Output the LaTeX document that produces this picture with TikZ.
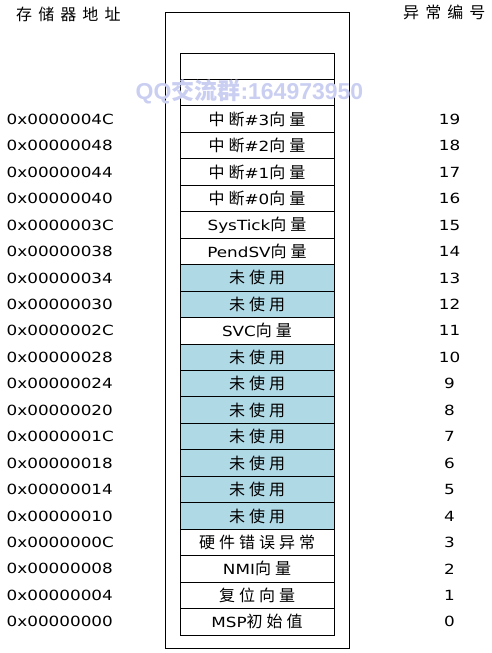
\documentclass[tikz,border=0pt]{standalone}
\usepackage{fontspec}
\setmainfont{DejaVu Sans}[FakeStretch=1.2]
\newfontfamily\zh{Noto Sans CJK SC}[LetterSpace=25]
\newfontfamily\zhhead{Noto Sans CJK SC}[LetterSpace=38]
\newfontfamily\wmlat{Liberation Sans}
\newfontfamily\wmzh{Noto Sans CJK SC}
\newcommand\zc[1]{{\zh\fontsize{16bp}{18bp}\selectfont #1}}
\definecolor{unusedblue}{RGB}{176,217,230}
\definecolor{wmblue}{RGB}{202,207,242}

\begin{document}
\begin{tikzpicture}[x=1bp,y=-1bp]
\tikzset{cell/.style={draw,line width=1bp,minimum width=154bp,minimum height=26.45bp,inner sep=0pt,font=\fontsize{14bp}{16bp}\selectfont}}
\tikzset{used/.style={cell,fill=white}}
\tikzset{unused/.style={cell,fill=unusedblue}}
\tikzset{addr/.style={anchor=west,inner sep=0pt,font=\fontsize{14bp}{16bp}\selectfont}}
\tikzset{excno/.style={inner sep=0pt,font=\fontsize{14bp}{16bp}\selectfont}}
\tikzset{head/.style={inner sep=0pt,font=\zhhead\fontsize{16bp}{18bp}\selectfont}}
\useasboundingbox (0,0) rectangle (492,653);
% outer frame
\draw[line width=1bp] (165,12.5) rectangle (349.5,648);
% column titles
\node[head,anchor=west] (addrhead) at (16,14) {存储器地址};
\node[head,anchor=west] (exchead) at (403,12) {异常编号};
% two empty slots on top
\node[used] (v21) at (257,{635-26.45*21.5}) {};
\node[used] (v20) at (257,{635-26.45*20.5}) {};
% vector table
\foreach \k/\ad/\txt/\kind in {
  19/0000004C/{\zc{中断}\#3\zc{向量}}/used,
  18/00000048/{\zc{中断}\#2\zc{向量}}/used,
  17/00000044/{\zc{中断}\#1\zc{向量}}/used,
  16/00000040/{\zc{中断}\#0\zc{向量}}/used,
  15/0000003C/{SysTick\zc{向量}}/used,
  14/00000038/{PendSV\zc{向量}}/used,
  13/00000034/{\zc{未使用}}/unused,
  12/00000030/{\zc{未使用}}/unused,
  11/0000002C/{SVC\zc{向量}}/used,
  10/00000028/{\zc{未使用}}/unused,
  9/00000024/{\zc{未使用}}/unused,
  8/00000020/{\zc{未使用}}/unused,
  7/0000001C/{\zc{未使用}}/unused,
  6/00000018/{\zc{未使用}}/unused,
  5/00000014/{\zc{未使用}}/unused,
  4/00000010/{\zc{未使用}}/unused,
  3/0000000C/{\zc{硬件错误异常}}/used,
  2/00000008/{NMI\zc{向量}}/used,
  1/00000004/{\zc{复位向量}}/used,
  0/00000000/{MSP\zc{初始值}}/used}
{
  \pgfmathsetmacro\yy{635-26.45*(\k+0.5)}
  \node[\kind] (v\k) at (257,\yy) {\txt};
  \node[addr] (a\k) at (6.5,\yy) {0x\ad};
  \node[excno] (n\k) at (449.5,\yy) {\k};
}
% watermark
\node[text=wmblue,inner sep=0pt,font=\bfseries\fontsize{23bp}{25bp}\selectfont] (wm) at (249.5,92)
  {\wmlat QQ{\wmzh 交流群}:164973950};
\end{tikzpicture}
\end{document}
